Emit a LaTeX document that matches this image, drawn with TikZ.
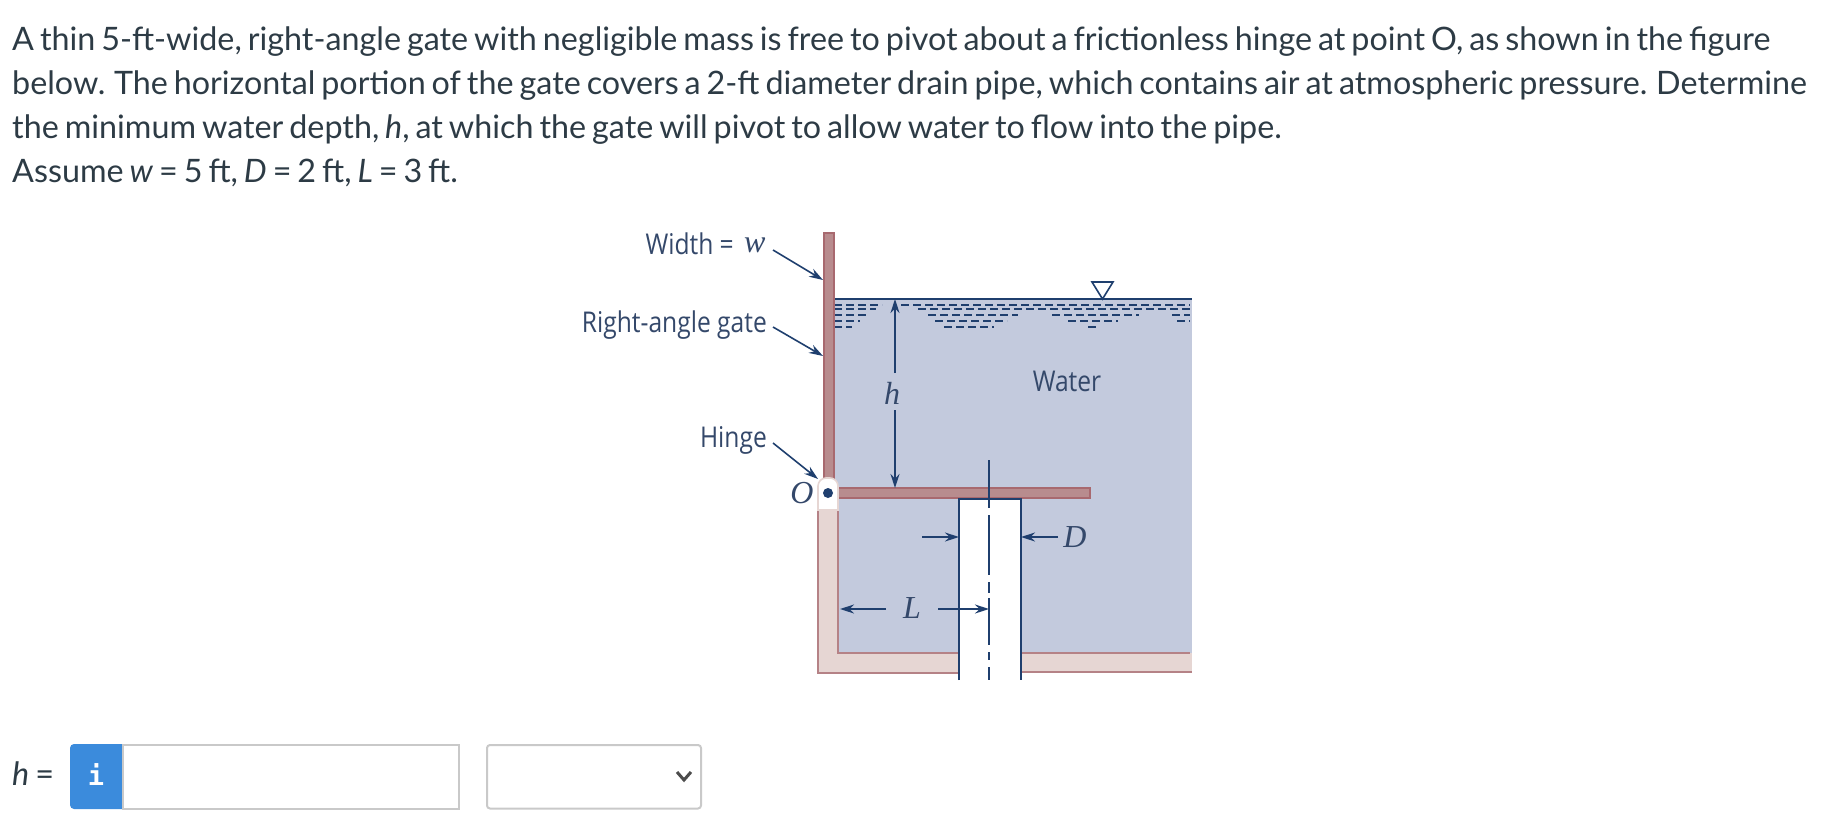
\documentclass[tikz,border=0pt]{standalone}
\usepackage{fontspec}
\setmainfont{Lato}[WordSpace=0.72]
\newfontfamily\figfont[FakeStretch=0.86]{Open Sans}
\newfontfamily\serifit{Liberation Serif}
\newfontfamily\monob{DejaVu Sans Mono}
\usetikzlibrary{arrows.meta}
\definecolor{txt}{HTML}{2D3B45}
\definecolor{figtxt}{HTML}{34486A}
\definecolor{navy}{HTML}{1F3F6E}
\definecolor{water}{HTML}{C3CADD}
\definecolor{gatefill}{HTML}{B88C8E}
\definecolor{gateline}{HTML}{A8696F}
\definecolor{floorfill}{HTML}{E6D6D3}
\definecolor{floorline}{HTML}{B58286}
\definecolor{infoblue}{HTML}{3B8BDC}
\definecolor{boxline}{HTML}{C9C9C9}
\tikzset{
  para/.style={anchor=base west,inner sep=0pt,font=\fontsize{32.3}{36}\selectfont,text=txt},
  figlabel/.style={inner sep=0pt,font=\figfont\fontsize{28.6}{30}\selectfont,text=figtxt},
  figmath/.style={inner sep=0pt,font=\serifit\itshape\fontsize{32}{34}\selectfont,text=figtxt},
  dim/.style={draw=navy,line width=1.6pt,-{Stealth[length=14pt,width=9pt]}},
  navyline/.style={draw=navy,line width=1.8pt},
  wave/.style={draw=navy,line width=1.6pt,dash pattern=on 8pt off 4pt},
}
\begin{document}
\begin{tikzpicture}[x=1pt,y=-1pt]
\useasboundingbox (0,0) rectangle (1836,836);
% text
\node[para] (l1) at (12,50) {A thin 5-ft-wide, right-angle gate with negligible mass is free to pivot about a frictionless hinge at point O, as shown in the figure};
\node[para] (l2) at (12,94) {below. The horizontal portion of the gate covers a 2-ft diameter drain pipe, which contains air at atmospheric pressure. Determine};
\node[para] (l3) at (12,138) {the minimum water depth, \textit{h}, at which the gate will pivot to allow water to flow into the pipe.};
\node[para] (l4) at (12,182) {Assume \textit{w} = 5 ft, \textit{D} = 2 ft, \textit{L} = 3 ft.};
% water
\fill[water] (834,299) rectangle (1192,653);
% dashes
\foreach \y/\a/\b in {305/834/882,305/901/909,305/913/1190,309/834/876,309/918/1190,
 315/834/866,315/928/1018,315/1052/1139,315/1172/1190,
 321/834/860,321/935/1007,321/1068/1118,321/1177/1190,
 327/834/852,327/944/994,327/1088/1098}
  \draw[wave] (\a,\y) -- (\b,\y);
% surface
\draw[navyline] (834,299) -- (1192,299);
\draw[navy,line width=1.6pt,line join=miter] (1092,282) -- (1113,282) -- (1102.5,299) -- cycle;
% floor + wall
\fill[floorfill] (818,505) -- (818,673) -- (959,673) -- (959,653) -- (838,653) -- (838,505) -- cycle;
\fill[floorfill] (1021,653) rectangle (1192,673);
\draw[floorline,line width=1.4pt] (818,505) -- (818,673) -- (959,673);
\draw[floorline,line width=1.4pt] (838,505) -- (838,653) -- (959,653);
\draw[floorline,line width=1.4pt] (1021,653) -- (1190,653);
\draw[floorline,line width=1.4pt] (1021,672) -- (1192,672);
% gate
\draw[draw=gateline,fill=gatefill,line width=1.4pt] (824,233) rectangle (834,482);
\draw[draw=gateline,fill=gatefill,line width=1.4pt] (836,488) rectangle (1090,498);
% pipe
\fill[white] (959,499) rectangle (1021,680);
\fill[white] (957,674) rectangle (1023,684);
\draw[navyline] (959,680) -- (959,499) -- (1021,499) -- (1021,680);
% centre line
\draw[navyline] (989,460) -- (989,508);
\foreach \a/\b in {515/575,582/593,598/645,652/660,667/680}
  \draw[navyline] (989,\a) -- (989,\b);
% hinge
\draw[draw=floorfill,fill=white,line width=1.6pt] (818,510) -- (818,486) arc[start angle=180,end angle=270,radius=8] -- (830,478) arc[start angle=270,end angle=360,radius=8] -- (838,510) -- cycle;
\node[circle,fill=navy,minimum size=10pt,inner sep=0pt] (pivot) at (828,493) {};
% labels
\node[figlabel,anchor=east] (width) at (734,244) {Width =};
\node[figmath,anchor=west] (wv) at (744,245) {w};
\node[figlabel,anchor=east] (rag) at (767,325) {Right-angle gate};
\node[figlabel,anchor=east] (hin) at (767,440) {Hinge};
\node[figlabel] (wat) at (1067,381) {Water};
\node[figmath] (O) at (802,493) {O};
\node[figmath] (hh) at (892,393) {h};
\node[figmath] (LL) at (912,608) {L};
\node[figmath] (DD) at (1075,537) {D};
% leader arrows
\coordinate (wa) at (773,250); \coordinate (wb) at (823,280);
\coordinate (ra) at (773,327); \coordinate (rb) at (823,356);
\coordinate (ha) at (773,443); \coordinate (hb) at (818,479);
\draw[dim] (wa) -- (wb);
\draw[dim] (ra) -- (rb);
\draw[dim] (ha) -- (hb);
% h dim
\coordinate (htop) at (895,299); \coordinate (hbot) at (895,488);
\draw[dim] (895,373) -- (htop);
\draw[dim] (895,410) -- (hbot);
% D dim
\coordinate (dl) at (959,537); \coordinate (dr) at (1021,537);
\draw[dim] (922,537) -- (dl);
\draw[dim] (1058,537) -- (dr);
% L dim
\coordinate (lw) at (840,609); \coordinate (lc) at (989,609);
\draw[dim] (886,609) -- (lw);
\draw[dim] (938,609) -- (lc);
% answer row
\node[para] (heq) at (12,785) {\textit{h} =};
\fill[infoblue,rounded corners=4pt] (70,744) rectangle (128,809);
\draw[boxline,fill=white,line width=2pt] (122.5,745) rectangle (459,808.5);
\node[inner sep=0pt,text=white,font=\monob\bfseries\fontsize{27}{28}\selectfont] (info) at (96,775) {i};
\draw[boxline,line width=2pt,rounded corners=3pt] (487,745) rectangle (701,808.5);
\coordinate (c1) at (677,772); \coordinate (c2) at (684,780); \coordinate (c3) at (691,772);
\draw[draw=black!70,line width=3pt] (c1) -- (c2) -- (c3);
\end{tikzpicture}
\end{document}
